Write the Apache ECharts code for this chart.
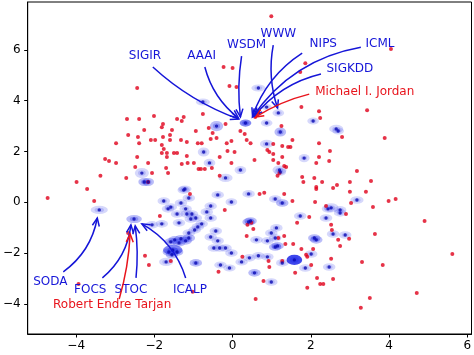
<!DOCTYPE html>
<html><head><meta charset="utf-8">
<script src="https://cdn.jsdelivr.net/npm/echarts@6/dist/echarts.min.js"></script>
<style>html,body{margin:0;padding:0;background:#fff}#c{width:474px;height:355px}</style>
</head><body><div id="c"></div>
<script>
const xTicks = [-4, -2, 0, 2, 4, 6];
const yTicks = [-4, -2, 0, 2, 4, 6];

// authors (red points): [x, y]
const authorPoints = [
[-2.44,4.50],[-0.23,5.33],[0.00,5.29],[-0.08,4.58],[0.10,4.54],[-0.76,3.48],[-2.70,3.28],[-2.39,3.28],[-2.01,3.40],[-1.42,3.28],
[-1.25,3.36],[-1.30,3.20],[-1.78,3.08],[-1.81,2.96],[-2.67,2.65],[-2.26,2.85],[-2.42,2.57],[-1.55,2.85],[-1.60,2.65],[-0.94,2.81],
[-0.61,2.93],[-0.51,2.73],[-0.41,2.53],[-0.18,3.08],[-2.09,2.45],[-1.98,2.45],[-1.78,2.57],[-1.60,2.45],[-1.32,2.45],[-1.17,2.37],
[-0.89,2.33],[-0.79,2.33],[-0.56,2.49],[-0.15,2.33],[-0.03,2.41],[0.20,2.81],[0.31,2.69],[0.36,2.45],[0.46,2.33],[-2.98,2.33],
[-2.39,2.33],[-1.81,2.26],[-1.76,2.10],[-1.81,1.94],[-1.68,1.94],[-1.50,1.94],[-1.42,1.94],[-1.17,1.82],[-1.68,1.78],[-2.16,1.55],
[-1.30,1.51],[-1.15,1.55],[-0.99,1.55],[-0.87,1.31],[-0.81,1.31],[-0.71,1.31],[-0.53,1.35],[-2.06,1.15],[-1.70,1.35],[-1.65,1.15],
[-0.33,1.78],[-0.13,2.02],[0.05,1.98],[-0.03,1.55],[-0.33,1.04],[-3.26,1.70],[-3.16,1.63],[-2.98,1.55],[-2.44,1.78],[-2.49,1.39],
[-3.38,1.04],[-2.72,0.96],[-3.99,0.80],[-3.72,0.52],[-4.73,0.17],[-3.54,0.05],[-2.16,0.80],[-2.67,-1.21],[-2.24,-2.11],[-2.14,-2.47],
[-1.86,-0.54],[-1.09,0.33],[-0.20,-0.30],[-1.58,-2.31],[-3.94,-3.22],[-0.36,-2.74],[-1.02,-3.53],[0.38,-0.89],[0.36,-1.33],[0.25,-2.15],
[1.15,1.04],[1.78,1.00],[1.81,0.80],[2.09,0.96],[2.29,0.80],[2.14,0.60],[2.14,0.52],[2.57,0.56],[2.67,0.68],[3.00,0.80],
[3.54,0.84],[3.41,0.41],[3.00,0.41],[0.69,0.33],[0.81,0.37],[1.32,0.33],[2.11,0.01],[1.53,0.05],[3.03,-0.03],[3.99,0.05],
[4.17,0.13],[3.59,-0.19],[1.96,-0.58],[2.90,-0.46],[2.52,-0.89],[4.91,-0.74],[0.48,-0.81],[0.53,-1.05],[1.65,-0.81],[2.54,-1.09],
[3.64,-1.25],[2.70,-1.48],[2.98,-1.44],[2.75,-1.72],[1.32,-1.33],[1.17,-1.41],[1.35,-1.64],[1.55,-1.64],[1.76,-1.84],[2.06,-1.84],
[1.88,-2.07],[1.91,-2.15],[2.01,-2.47],[2.52,-2.23],[0.92,-2.31],[0.94,-2.55],[3.31,-2.35],[3.84,-2.47],[5.62,-2.04],[1.27,-2.31],
[1.60,-2.78],[2.16,-2.98],[2.57,-3.02],[2.24,-3.22],[2.32,-3.22],[1.91,-3.37],[0.79,-3.10],[0.59,-3.81],[3.51,-3.77],[3.28,-4.16],
[4.71,-3.57],[2.39,-0.15],[0.99,7.33],[1.86,5.48],[4.05,6.04],[1.73,5.13],[2.21,3.59],[2.24,3.32],[3.44,3.63],[1.76,3.75],
[3.89,2.53],[2.80,2.57],[2.21,2.33],[2.49,2.02],[1.53,2.45],[1.27,2.22],[1.42,2.18],[1.48,2.18],[1.04,2.30],[1.25,3.00],
[0.56,1.67],[0.89,2.06],[0.94,1.98],[1.04,1.90],[1.27,1.78],[1.04,1.67],[1.17,1.55],[1.32,1.43],[1.37,1.39],[2.21,1.78],
[2.47,1.63],[3.18,1.23],[2.14,1.55],[1.20,1.15],[0.58,3.36]
];

// venues (blue): [x, y, spreadX, spreadY, papers level]
const venues = [
[-0.76,3.95,0.18,0.14,1],[-0.41,3.00,0.17,0.20,2],[0.33,3.12,0.15,0.14,3],[-0.74,1.98,0.15,0.18,1],[-0.59,1.55,0.15,0.16,1],
[0.20,1.27,0.15,0.16,1],[-0.18,0.96,0.18,0.16,1],[-2.32,1.15,0.18,0.20,1],[-2.26,0.80,0.15,0.16,2],[-2.16,0.80,0.15,0.16,2],
[-1.22,0.52,0.17,0.14,1],[0.66,4.50,0.18,0.14,1],[0.87,3.75,0.13,0.12,1],[1.17,3.52,0.15,0.14,1],[0.87,3.12,0.15,0.14,1],
[1.22,2.77,0.15,0.18,2],[2.06,3.20,0.15,0.14,1],[2.65,2.89,0.18,0.16,1],[2.70,2.81,0.15,0.14,1],[0.87,2.30,0.17,0.16,1],
[1.83,1.74,0.14,0.16,1],[1.20,1.27,0.18,0.18,1],[1.22,1.19,0.15,0.15,1],[-3.41,-0.30,0.22,0.16,1],[-2.52,-0.66,0.20,0.16,2],
[-1.76,0.05,0.16,0.15,1],[-1.25,0.48,0.16,0.15,1],[-1.12,0.17,0.16,0.15,1],[-0.38,0.29,0.16,0.15,1],[-0.03,0.01,0.15,0.15,1],
[-1.58,-0.19,0.16,0.15,1],[-1.65,-0.26,0.16,0.15,1],[-1.32,-0.03,0.16,0.15,1],[-1.20,-0.26,0.16,0.15,1],[-1.42,-0.46,0.16,0.15,1],
[-1.17,-0.46,0.16,0.15,1],[-1.04,-0.46,0.16,0.15,1],[-0.66,-0.38,0.16,0.15,1],[-0.56,-0.15,0.16,0.15,1],[-0.94,-0.62,0.16,0.15,1],
[-1.07,-0.66,0.16,0.15,1],[-0.79,-0.85,0.16,0.15,1],[-0.89,-0.97,0.16,0.15,1],[-0.97,-1.09,0.16,0.15,1],[-1.37,-0.81,0.16,0.15,1],
[-1.81,-0.85,0.16,0.15,1],[-2.06,-0.89,0.16,0.15,1],[-0.43,-1.13,0.16,0.15,1],[-0.56,-1.37,0.16,0.15,1],[-0.38,-1.52,0.16,0.15,1],
[-0.48,-1.80,0.16,0.15,1],[-0.33,-1.80,0.16,0.15,1],[-0.18,-1.80,0.16,0.15,1],[-0.03,-2.00,0.16,0.15,1],[-1.32,-1.44,0.16,0.15,2],
[-1.48,-1.48,0.16,0.15,2],[-1.58,-1.56,0.16,0.15,2],[-1.12,-1.41,0.16,0.15,2],[-1.20,-1.52,0.16,0.15,2],[-1.37,-1.60,0.16,0.15,2],
[-1.53,-1.88,0.25,0.20,3],[-1.42,-1.96,0.16,0.15,2],[-1.63,-1.96,0.16,0.15,2],[-1.55,-2.07,0.16,0.15,2],[-1.70,-2.35,0.18,0.16,1],
[-0.94,-2.39,0.16,0.15,2],[-0.31,-2.47,0.16,0.14,1],[-0.08,-2.59,0.16,0.14,1],[0.23,-2.35,0.16,0.14,1],[0.41,0.33,0.16,0.15,1],
[1.09,0.13,0.16,0.15,1],[1.27,-0.03,0.16,0.15,2],[1.73,-0.54,0.16,0.15,1],[2.52,-0.22,0.19,0.18,1],[2.44,-0.26,0.16,0.15,1],
[2.75,-0.30,0.16,0.15,1],[2.75,-0.42,0.16,0.15,1],[3.18,0.09,0.17,0.15,1],[2.39,-0.62,0.16,0.15,1],[0.46,-0.74,0.16,0.15,2],
[0.41,-0.78,0.16,0.15,2],[1.12,-1.01,0.16,0.15,1],[0.99,-1.21,0.16,0.15,1],[1.09,-1.41,0.16,0.15,1],[0.61,-1.48,0.16,0.15,1],
[0.89,-1.52,0.16,0.15,1],[2.09,-1.41,0.16,0.15,2],[2.14,-1.48,0.16,0.15,2],[2.57,-1.25,0.16,0.15,1],[2.88,-1.29,0.16,0.15,1],
[1.09,-1.76,0.16,0.15,2],[1.15,-1.72,0.16,0.15,2],[2.01,-2.04,0.16,0.15,1],[1.58,-2.27,0.20,0.20,4],[1.27,-2.39,0.16,0.15,1],
[1.86,-2.59,0.16,0.15,1],[2.47,-2.55,0.16,0.15,1],[0.43,-2.19,0.16,0.15,1],[0.66,-2.11,0.16,0.15,1],[0.89,-2.15,0.16,0.15,1],
[0.56,-2.78,0.16,0.15,2],[0.99,-3.14,0.16,0.15,1],[-0.56,-0.62,0.16,0.15,1],[-1.12,-1.21,0.16,0.15,1]
];

const BLUE = '#1515d8', RED = '#e8141c';
// annotations: label, colour, label centre, arrow tail, arrow head, curvature
const annotations = [
  {label:'SIGIR', color:BLUE, text:[-2.24,5.76], tail:[-2.04,5.33], head:[0.15,3.28], rad:-0.10},
  {label:'AAAI', color:BLUE, text:[-0.79,5.76], tail:[-0.71,5.33], head:[0.15,3.32], rad:-0.17},
  {label:'WSDM', color:BLUE, text:[0.36,6.19], tail:[0.23,5.76], head:[0.20,3.36], rad:-0.07},
  {label:'WWW', color:BLUE, text:[1.17,6.63], tail:[1.04,6.19], head:[1.15,3.71], rad:-0.13},
  {label:'NIPS', color:BLUE, text:[2.32,6.23], tail:[1.78,5.88], head:[0.51,3.40], rad:-0.17},
  {label:'ICML', color:BLUE, text:[3.77,6.23], tail:[3.28,6.11], head:[0.51,3.36], rad:-0.21},
  {label:'SIGKDD', color:BLUE, text:[3.00,5.25], tail:[2.26,5.05], head:[0.56,3.40], rad:-0.17},
  {label:'Michael I. Jordan', color:RED, text:[3.38,4.34], tail:[1.96,4.26], head:[0.59,3.36], rad:-0.08},
  {label:'SODA', color:BLUE, text:[-4.66,-3.14], tail:[-4.33,-2.74], head:[-3.46,-0.62], rad:-0.20},
  {label:'FOCS', color:BLUE, text:[-3.64,-3.45], tail:[-3.33,-2.98], head:[-2.60,-0.89], rad:-0.20},
  {label:'STOC', color:BLUE, text:[-2.60,-3.45], tail:[-2.47,-2.98], head:[-2.49,-0.93], rad:-0.06},
  {label:'ICALP', color:BLUE, text:[-1.09,-3.45], tail:[-1.20,-2.98], head:[-2.32,-0.85], rad:-0.20},
  {label:'Robert Endre Tarjan', color:RED, text:[-3.08,-4.04], tail:[-2.90,-3.81], head:[-2.62,-1.25], rad:-0.06}
];

const chart = echarts.init(document.getElementById('c'), null, {renderer:'canvas'});
const fmt = v => (v < 0 ? '\u2212' + Math.abs(v) : String(v));
const alphaByLevel = {1:0.2, 2:0.34, 3:0.62, 4:0.94};
const FONT = 'DejaVu Sans';

function axisCommon(ticks, margin){
  return {
    type:'value', splitLine:{show:false},
    axisLine:{show:true, onZero:false, lineStyle:{color:'#000', width:1}},
    axisTick:{show:true, length:3.5, lineStyle:{color:'#000', width:1}, customValues:ticks},
    axisLabel:{customValues:ticks, formatter:fmt, color:'#000', fontSize:12, fontFamily:FONT, margin:margin}
  };
}

const option = {
  animation:false,
  grid:{left:26, right:2, top:2, bottom:21, show:true, borderColor:'#000', borderWidth:1, backgroundColor:'#fff'},
  xAxis:Object.assign(axisCommon(xTicks, 6), {min:-5.24, max:6.11}),
  yAxis:Object.assign(axisCommon(yTicks, 7), {min:-5.19, max:7.89}),
  series:[
    {
      type:'custom', coordinateSystem:'cartesian2d', silent:true, z:1,
      data:venues,
      renderItem:function(params, api){
        const c = api.coord([api.value(0), api.value(1)]);
        const s = api.size([api.value(2), api.value(3)]);
        const fill = 'rgba(50,60,235,' + alphaByLevel[api.value(4)] + ')';
        const mk = k => ({type:'circle', shape:{cx:0, cy:0, r:s[0]*k}, x:c[0], y:c[1], scaleX:1, scaleY:s[1]/s[0], style:{fill:fill}});
        return {type:'group', children:[mk(1), mk(0.55)]};
      }
    },
    {
      type:'scatter', z:2, silent:true, symbol:'circle', symbolSize:4,
      itemStyle:{color:'#e0001a'},
      data:authorPoints
    },
    {
      type:'scatter', z:3, silent:true, symbol:'circle', symbolSize:3.4,
      itemStyle:{color:'#0808b0'},
      data:venues.map(v => [v[0], v[1]])
    },
    {
      type:'custom', coordinateSystem:'cartesian2d', silent:true, z:4,
      data:annotations.map(a => [a.text[0], a.text[1]]),
      renderItem:function(params, api){
        const a = annotations[params.dataIndex];
        const t = api.coord(a.text), p0 = api.coord(a.tail), p2 = api.coord(a.head);
        const dx = p2[0]-p0[0], dy = p2[1]-p0[1];
        const cx = (p0[0]+p2[0])/2 + a.rad*dy, cy = (p0[1]+p2[1])/2 - a.rad*dx;
        let ux = p2[0]-cx, uy = p2[1]-cy; const L = Math.hypot(ux, uy); ux /= L; uy /= L;
        const hl = 8, hw = 3.5;
        const b = [p2[0]-hl*ux, p2[1]-hl*uy];
        const h1 = [b[0]-hw*uy, b[1]+hw*ux], h2 = [b[0]+hw*uy, b[1]-hw*ux];
        return {type:'group', children:[
          {type:'bezierCurve', shape:{x1:p0[0], y1:p0[1], x2:p2[0], y2:p2[1], cpx1:cx, cpy1:cy}, style:{stroke:a.color, lineWidth:1.5, fill:null}},
          {type:'polyline', shape:{points:[h1, p2, h2]}, style:{stroke:a.color, lineWidth:1.5, fill:null}},
          {type:'text', x:t[0], y:t[1], style:{text:a.label, fill:a.color, fontSize:12, fontFamily:FONT, align:'center', verticalAlign:'middle'}}
        ]};
      }
    }
  ]
};
chart.setOption(option);
</script>
</body></html>
